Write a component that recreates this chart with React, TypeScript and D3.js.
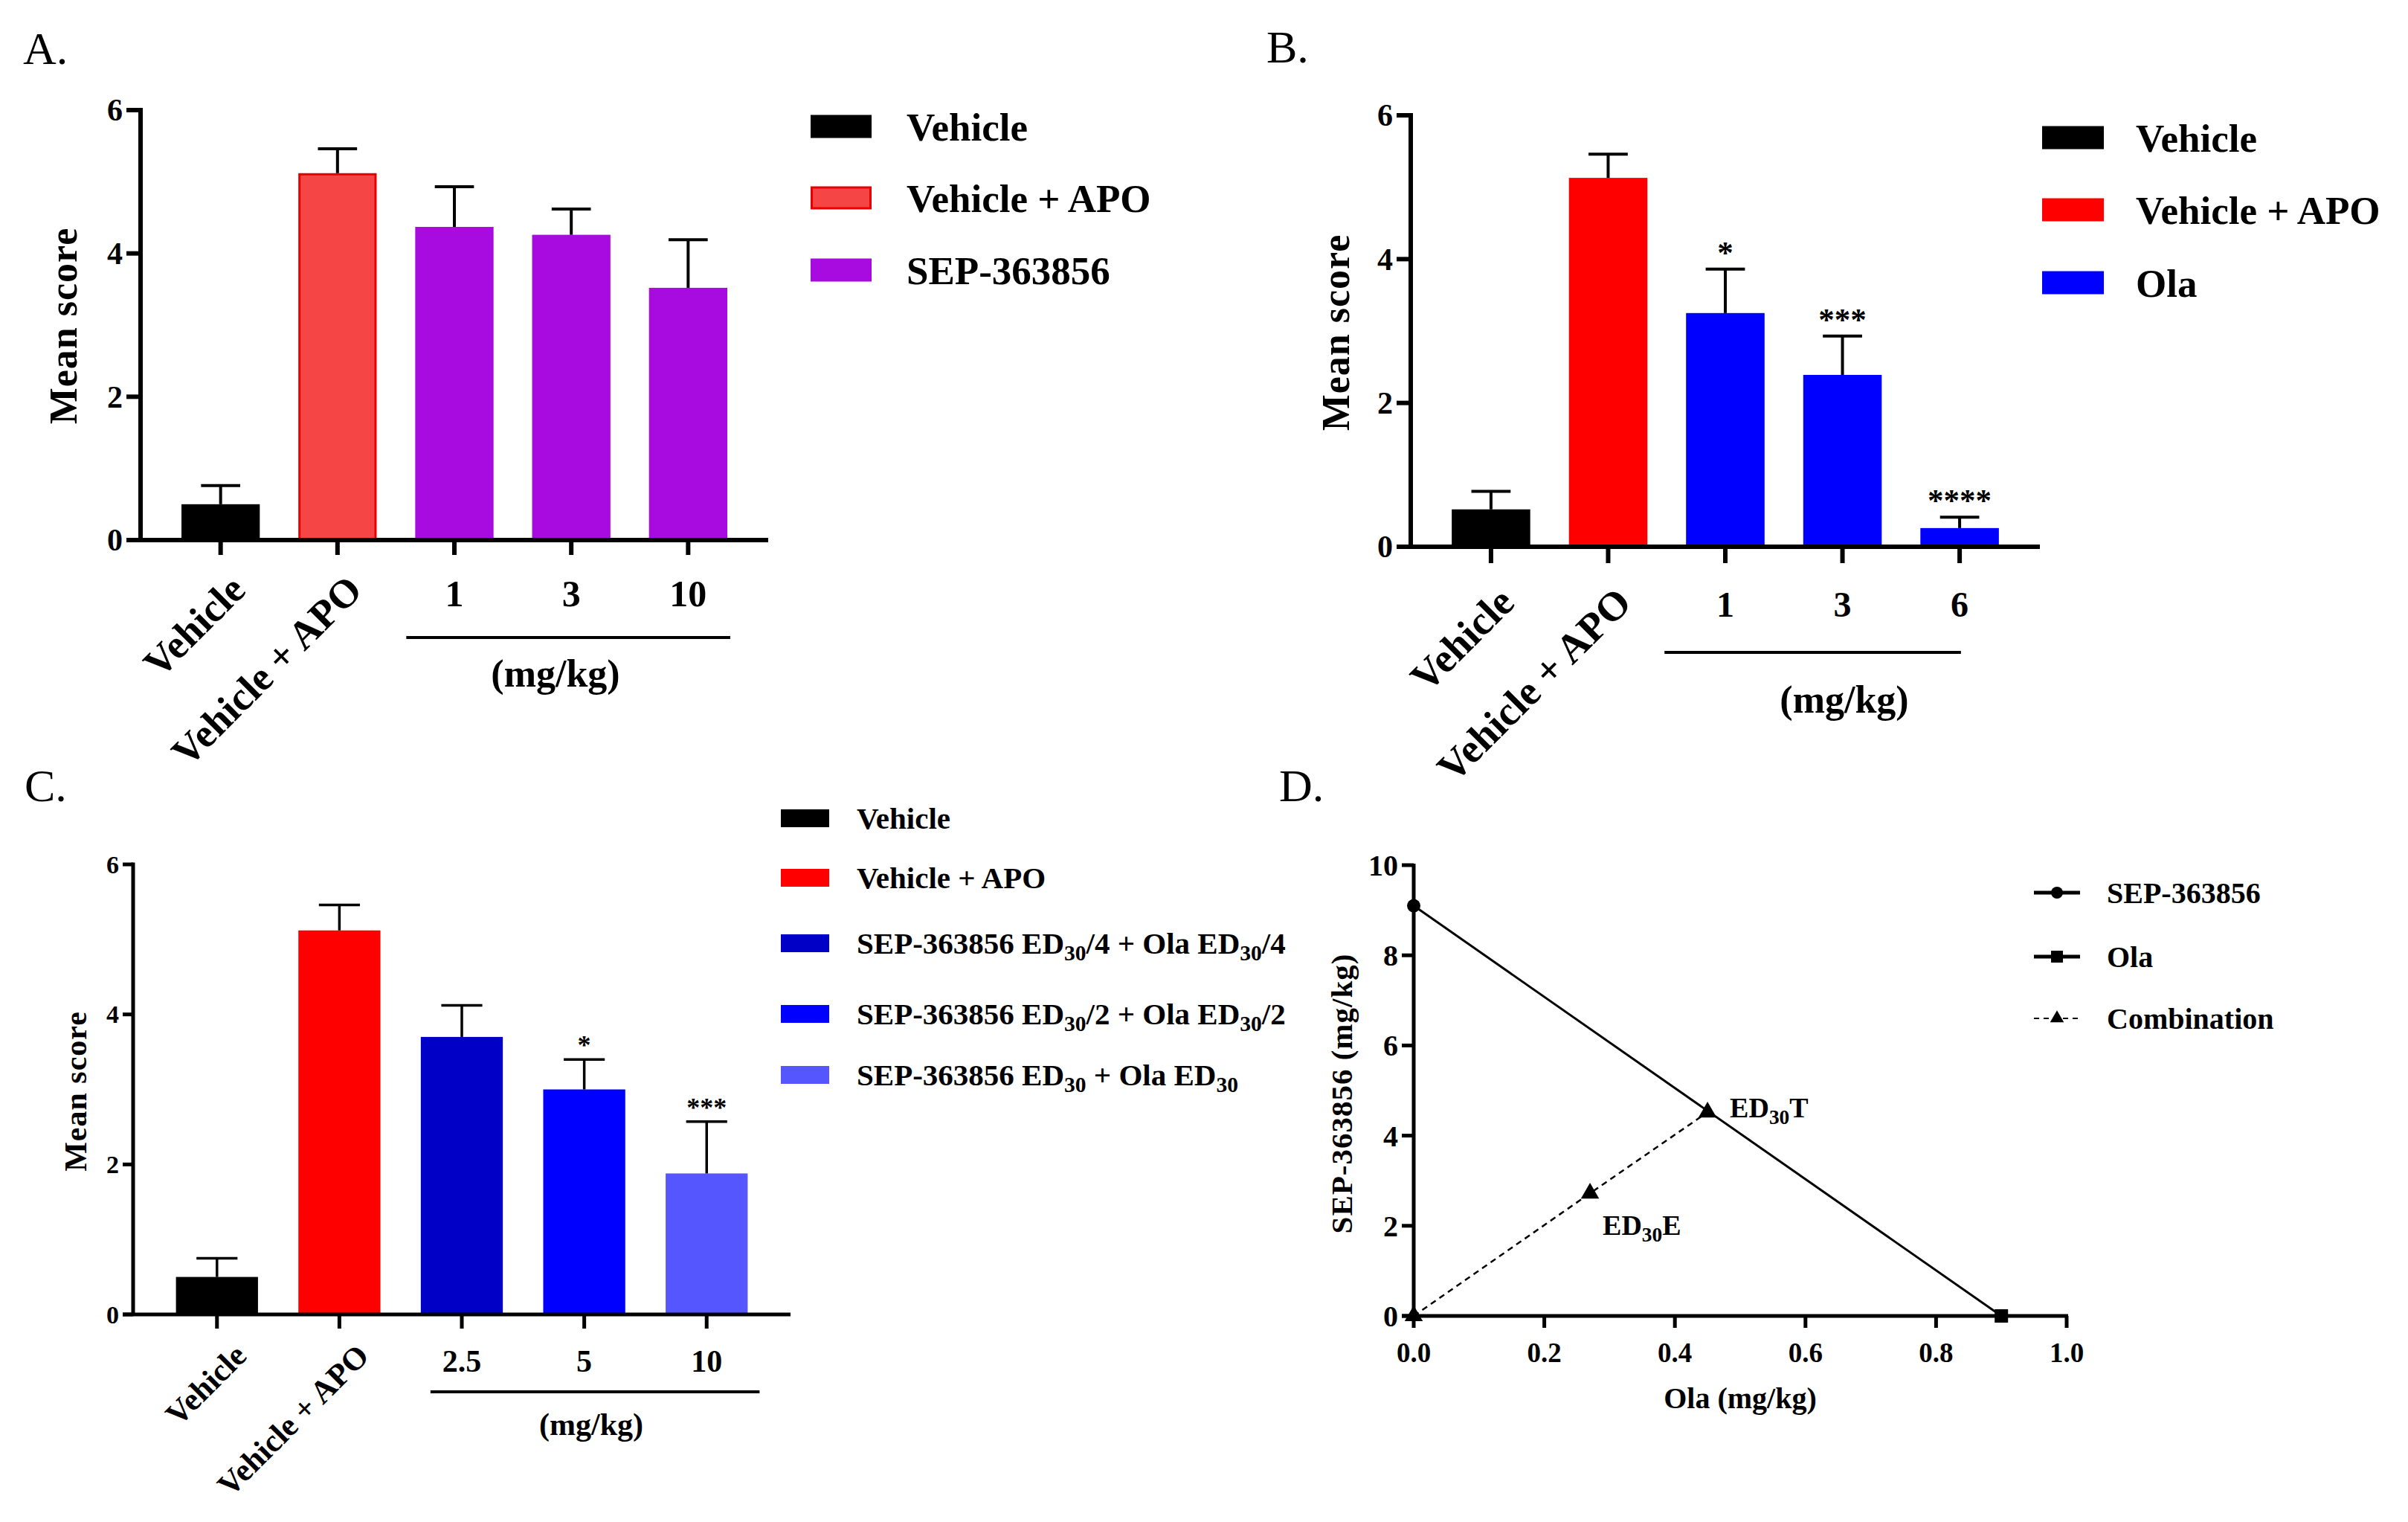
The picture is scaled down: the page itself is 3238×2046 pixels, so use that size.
import React from 'react';
import * as d3 from 'd3';

const FONT = '"Liberation Serif", "Times New Roman", Times, serif';

// ---------- Panel A data ----------
const catA = ['Vehicle', 'Vehicle + APO', '1', '3', '10'];
const meanA = [0.5, 5.12, 4.37, 4.26, 3.52];
const semA = [0.26, 0.34, 0.56, 0.36, 0.67];
const colorA = ['#000000', '#F54545', '#A70BE0', '#A70BE0', '#A70BE0'];
const strokeA = ['none', '#E40000', 'none', 'none', 'none'];
const starsA = ['', '', '', '', ''];
const legendA = ['Vehicle', 'Vehicle + APO', 'SEP-363856'];
const legendColorA = ['#000000', '#F54545', '#A70BE0'];
const legendStrokeA = ['none', '#E40000', 'none'];

// ---------- Panel B data ----------
const catB = ['Vehicle', 'Vehicle + APO', '1', '3', '6'];
const meanB = [0.52, 5.13, 3.25, 2.39, 0.26];
const semB = [0.25, 0.33, 0.61, 0.54, 0.15];
const colorB = ['#000000', '#FF0000', '#0000FF', '#0000FF', '#0000FF'];
const strokeB = ['none', 'none', 'none', 'none', 'none'];
const starsB = ['', '', '*', '***', '****'];
const legendB = ['Vehicle', 'Vehicle + APO', 'Ola'];
const legendColorB = ['#000000', '#FF0000', '#0000FF'];
const legendStrokeB = ['none', 'none', 'none'];

// ---------- Panel C data ----------
const catC = ['Vehicle', 'Vehicle + APO', '2.5', '5', '10'];
const meanC = [0.5, 5.12, 3.7, 3.0, 1.88];
const semC = [0.25, 0.34, 0.42, 0.4, 0.69];
const colorC = ['#000000', '#FF0000', '#0000C6', '#0000FF', '#5656FF'];
const strokeC = ['none', 'none', 'none', 'none', 'none'];
const starsC = ['', '', '', '*', '***'];
const legendC = [
  'Vehicle',
  'Vehicle + APO',
  'SEP-363856 ED_30/4 + Ola ED_30/4',
  'SEP-363856 ED_30/2 + Ola ED_30/2',
  'SEP-363856 ED_30 + Ola ED_30',
];
const legendColorC = ['#000000', '#FF0000', '#0000C6', '#0000FF', '#5656FF'];
const legendStrokeC = ['none', 'none', 'none', 'none', 'none'];

const yTicksBar = [0, 2, 4, 6];

// ---------- Panel D data ----------
const isoX = [0, 0.9];
const isoY = [9.1, 0];
const comboX = [0, 0.27, 0.45];
const comboY = [0, 2.72, 4.52];
const xTicksD = [0, 0.2, 0.4, 0.6, 0.8, 1.0];
const yTicksD = [0, 2, 4, 6, 8, 10];
const legendD = ['SEP-363856', 'Ola', 'Combination'];

function Rich({ text, sub }: { text: string; sub: number }) {
  const parts = text.split(/_(\d+)/);
  const out: any[] = [];
  let shifted = false;
  parts.forEach((p, i) => {
    if (i % 2 === 1) {
      out.push(
        <tspan key={i} dy={sub} fontSize="72%">
          {p}
        </tspan>
      );
      shifted = true;
    } else if (p.length) {
      out.push(
        <tspan key={i} dy={shifted ? -sub : 0}>
          {p}
        </tspan>
      );
      shifted = false;
    } else if (shifted) {
      shifted = false;
    }
  });
  return <>{out}</>;
}

function BarPanel(cfg: any) {
  const x = d3
    .scaleBand<string>()
    .domain(cfg.cats)
    .range([cfg.x0, cfg.x1])
    .paddingInner(0.33)
    .paddingOuter(0.35);
  const y = d3.scaleLinear().domain([0, 6]).range([cfg.yB, cfg.yT]);
  const bw = x.bandwidth();
  const cx = (c: string) => (x(c) as number) + bw / 2;
  const aw = cfg.axisW;
  return (
    <g fontFamily={FONT} fontWeight="bold">
      <text x={cfg.letter[0]} y={cfg.letter[1]} fontSize={62} fontWeight="normal">
        {cfg.letterText}
      </text>
      {/* bars */}
      {cfg.cats.map((c: string, i: number) => {
        const top = y(cfg.means[i]);
        const hasStroke = cfg.strokes[i] !== 'none';
        return (
          <rect
            key={'b' + i}
            x={(x(c) as number) + (hasStroke ? 1.5 : 0)}
            y={top + (hasStroke ? 1.5 : 0)}
            width={bw - (hasStroke ? 3 : 0)}
            height={cfg.yB - top - (hasStroke ? 1.5 : 0)}
            fill={cfg.colors[i]}
            stroke={hasStroke ? cfg.strokes[i] : 'none'}
            strokeWidth={3}
          />
        );
      })}
      {/* error bars */}
      {cfg.cats.map((c: string, i: number) => {
        const top = y(cfg.means[i]);
        const et = y(cfg.means[i] + cfg.sems[i]);
        const capW = bw * 0.5;
        return (
          <g key={'e' + i} stroke="#000" strokeWidth={cfg.errW}>
            <line x1={cx(c)} x2={cx(c)} y1={top} y2={et} />
            <line x1={cx(c) - capW / 2} x2={cx(c) + capW / 2} y1={et} y2={et} />
          </g>
        );
      })}
      {/* stars */}
      {cfg.cats.map((c: string, i: number) =>
        cfg.stars[i] ? (
          <text
            key={'s' + i}
            x={cx(c)}
            y={y(cfg.means[i] + cfg.sems[i]) - cfg.starGap}
            textAnchor="middle"
            fontSize={cfg.starSize}
            fontWeight="bold"
          >
            {cfg.stars[i]}
          </text>
        ) : null
      )}
      {/* axes */}
      <line x1={cfg.x0} x2={cfg.x0} y1={cfg.yT - aw / 2} y2={cfg.yB} stroke="#000" strokeWidth={aw} />
      <line x1={cfg.x0 - cfg.tickLen} x2={cfg.x1} y1={cfg.yB} y2={cfg.yB} stroke="#000" strokeWidth={aw} />
      {yTicksBar.map((t) => (
        <g key={'yt' + t}>
          <line x1={cfg.x0 - cfg.tickLen} x2={cfg.x0} y1={y(t)} y2={y(t)} stroke="#000" strokeWidth={aw} />
          <text
            x={cfg.x0 - cfg.tickLen - 5}
            y={y(t) + cfg.yTickSize * 0.34}
            textAnchor="end"
            fontSize={cfg.yTickSize}
          >
            {t}
          </text>
        </g>
      ))}
      {cfg.cats.map((c: string) => (
        <line
          key={'xt' + c}
          x1={cx(c)}
          x2={cx(c)}
          y1={cfg.yB}
          y2={cfg.yB + cfg.xTickLen}
          stroke="#000"
          strokeWidth={aw}
        />
      ))}
      {/* x labels */}
      {cfg.cats.map((c: string, i: number) =>
        i < 2 ? (
          <text
            key={'xl' + i}
            transform={`translate(${cx(c) + cfg.rotDx},${cfg.yB + cfg.rotDy}) rotate(-45)`}
            textAnchor="end"
            fontSize={cfg.rotSize}
          >
            {c}
          </text>
        ) : (
          <text key={'xl' + i} x={cx(c)} y={cfg.numY} textAnchor="middle" fontSize={cfg.numSize}>
            {c}
          </text>
        )
      )}
      <line
        x1={(x(cfg.cats[2]) as number) + cfg.lineDs}
        x2={(x(cfg.cats[4]) as number) + bw + cfg.lineDe}
        y1={cfg.lineY}
        y2={cfg.lineY}
        stroke="#000"
        strokeWidth={4}
      />
      <text x={cfg.mgX} y={cfg.mgY} textAnchor="middle" fontSize={cfg.mgSize}>
        (mg/kg)
      </text>
      {/* y label */}
      <text
        transform={`translate(${cfg.ylab[0]},${cfg.ylab[1]}) rotate(-90)`}
        textAnchor="middle"
        fontSize={cfg.ylabSize}
        letterSpacing={cfg.ylabSpacing}
      >
        Mean score
      </text>
      {/* legend */}
      {cfg.legend.map((l: string, i: number) => {
        const cy = cfg.legY[i];
        const hasStroke = cfg.legStroke[i] !== 'none';
        return (
          <g key={'lg' + i}>
            <rect
              x={cfg.legX + (hasStroke ? 1.5 : 0)}
              y={cy - cfg.legH / 2 + (hasStroke ? 1.5 : 0)}
              width={cfg.legW - (hasStroke ? 3 : 0)}
              height={cfg.legH - (hasStroke ? 3 : 0)}
              fill={cfg.legColors[i]}
              stroke={hasStroke ? cfg.legStroke[i] : 'none'}
              strokeWidth={3}
            />
            <text x={cfg.legTextX} y={cy + cfg.legSize * 0.35} fontSize={cfg.legSize}>
              <Rich text={l} sub={cfg.legSize * 0.22} />
            </text>
          </g>
        );
      })}
    </g>
  );
}

function PanelD() {
  const x = d3.scaleLinear().domain([0, 1]).range([1901, 2779]);
  const y = d3.scaleLinear().domain([0, 10]).range([1769, 1163]);
  const isoLine = d3
    .line<number>()
    .x((_, i) => x(isoX[i]))
    .y((d) => y(d))(isoY) as string;
  const comboLine = d3
    .line<number>()
    .x((_, i) => x(comboX[i]))
    .y((d) => y(d))(comboY) as string;
  const tri = d3.symbol(d3.symbolTriangle, 260)() as string;
  const triSmall = d3.symbol(d3.symbolTriangle, 150)() as string;
  const legY = [1200, 1286, 1369];
  const aw = 5;
  return (
    <g fontFamily={FONT} fontWeight="bold">
      <text x={1720} y={1077} fontSize={62} fontWeight="normal">
        D.
      </text>
      <path d={isoLine} fill="none" stroke="#000" strokeWidth={3} />
      <path d={comboLine} fill="none" stroke="#000" strokeWidth={2.5} strokeDasharray="8,6" />
      {/* axes */}
      <line x1={x(0)} x2={x(0)} y1={y(10) - 2} y2={y(0)} stroke="#000" strokeWidth={aw} />
      <line x1={x(0) - 16} x2={x(1) + 2} y1={y(0)} y2={y(0)} stroke="#000" strokeWidth={aw} />
      {yTicksD.map((t) => (
        <g key={'yd' + t}>
          <line x1={x(0) - 16} x2={x(0)} y1={y(t)} y2={y(t)} stroke="#000" strokeWidth={aw} />
          <text x={x(0) - 21} y={y(t) + 14} textAnchor="end" fontSize={40}>
            {t}
          </text>
        </g>
      ))}
      {xTicksD.map((t) => (
        <g key={'xd' + t}>
          <line x1={x(t)} x2={x(t)} y1={y(0)} y2={y(0) + 16} stroke="#000" strokeWidth={aw} />
          <text x={x(t)} y={1831} textAnchor="middle" fontSize={37}>
            {t.toFixed(1)}
          </text>
        </g>
      ))}
      {/* markers */}
      <circle cx={x(isoX[0])} cy={y(isoY[0])} r={9} fill="#000" />
      <rect x={x(isoX[1]) - 9} y={y(isoY[1]) - 9} width={18} height={18} fill="#000" />
      {comboX.map((v, i) => (
        <path key={'tr' + i} d={tri} transform={`translate(${x(v)},${y(comboY[i])})`} fill="#000" />
      ))}
      <text x={x(comboX[2]) + 30} y={y(comboY[2]) + 7} fontSize={38} fontWeight="bold">
        <Rich text="ED_30T" sub={9} />
      </text>
      <text x={x(comboX[1]) + 17} y={y(comboY[1]) + 56} fontSize={38} fontWeight="bold">
        <Rich text="ED_30E" sub={9} />
      </text>
      <text x={2340} y={1893} textAnchor="middle" fontSize={40}>
        Ola (mg/kg)
      </text>
      <text transform="translate(1818,1470) rotate(-90)" textAnchor="middle" fontSize={41} letterSpacing={1}>
        SEP-363856 (mg/kg)
      </text>
      {/* legend */}
      {legendD.map((l, i) => {
        const cy = legY[i];
        return (
          <g key={'ld' + i}>
            <line
              x1={2735}
              x2={2797}
              y1={cy}
              y2={cy}
              stroke="#000"
              strokeWidth={i === 2 ? 2 : 5}
              strokeDasharray={i === 2 ? '7,6' : undefined}
            />
            {i === 0 && <circle cx={2766} cy={cy} r={8} fill="#000" />}
            {i === 1 && <rect x={2758} y={cy - 8} width={16} height={16} fill="#000" />}
            {i === 2 && <path d={triSmall} transform={`translate(2766,${cy})`} fill="#000" />}
            <text x={2833} y={cy + 14} fontSize={40}>
              {l}
            </text>
          </g>
        );
      })}
    </g>
  );
}

const cfgA = {
  letterText: 'A.',
  letter: [31, 86],
  cats: catA,
  means: meanA,
  sems: semA,
  colors: colorA,
  strokes: strokeA,
  stars: starsA,
  x0: 189,
  x1: 1033,
  yT: 148,
  yB: 726,
  axisW: 6,
  errW: 4,
  tickLen: 19,
  xTickLen: 20,
  yTickSize: 42,
  starSize: 43,
  starGap: 8,
  rotDx: 36,
  rotDy: 70,
  rotSize: 54,
  numY: 815,
  numSize: 50,
  lineDs: -12,
  lineDe: 4,
  lineY: 857,
  mgX: 747,
  mgY: 923,
  mgSize: 52,
  ylab: [103, 438],
  ylabSize: 52,
  ylabSpacing: 1,
  legend: legendA,
  legColors: legendColorA,
  legStroke: legendStrokeA,
  legX: 1090,
  legW: 82,
  legH: 31,
  legY: [170, 266, 363],
  legTextX: 1219,
  legSize: 53,
};

const cfgB = {
  letterText: 'B.',
  letter: [1703, 84],
  cats: catB,
  means: meanB,
  sems: semB,
  colors: colorB,
  strokes: strokeB,
  stars: starsB,
  x0: 1897,
  x1: 2743,
  yT: 155,
  yB: 735,
  axisW: 6,
  errW: 4,
  tickLen: 19,
  xTickLen: 22,
  yTickSize: 42,
  starSize: 43,
  starGap: 8,
  rotDx: 34,
  rotDy: 78,
  rotSize: 55,
  numY: 829,
  numSize: 48,
  lineDs: -29,
  lineDe: -51,
  lineY: 877,
  mgX: 2480,
  mgY: 958,
  mgSize: 52,
  ylab: [1814, 447],
  ylabSize: 52,
  ylabSpacing: 1,
  legend: legendB,
  legColors: legendColorB,
  legStroke: legendStrokeB,
  legX: 2746,
  legW: 83,
  legH: 31,
  legY: [185, 282, 380],
  legTextX: 2872,
  legSize: 53,
};

const cfgC = {
  letterText: 'C.',
  letter: [33, 1077],
  cats: catC,
  means: meanC,
  sems: semC,
  colors: colorC,
  strokes: strokeC,
  stars: starsC,
  x0: 179,
  x1: 1063,
  yT: 1162,
  yB: 1767,
  axisW: 5,
  errW: 3.5,
  tickLen: 14,
  xTickLen: 19,
  yTickSize: 34,
  starSize: 36,
  starGap: 7,
  rotDx: 42,
  rotDy: 58,
  rotSize: 43,
  numY: 1844,
  numSize: 42,
  lineDs: 13,
  lineDe: 16,
  lineY: 1871,
  mgX: 795,
  mgY: 1929,
  mgSize: 42,
  ylab: [116, 1467],
  ylabSize: 42,
  ylabSpacing: 1,
  legend: legendC,
  legColors: legendColorC,
  legStroke: legendStrokeC,
  legX: 1050,
  legW: 65,
  legH: 24,
  legY: [1100, 1180, 1268, 1363, 1445],
  legTextX: 1152,
  legSize: 41,
};

export default function App() {
  return (
    <svg
      width={3238}
      height={2046}
      viewBox="0 0 3238 2046"
      style={{ position: 'absolute', left: 0, top: 0, background: '#fff' }}
    >
      <rect width={3238} height={2046} fill="#fff" />
      <BarPanel {...cfgA} />
      <BarPanel {...cfgB} />
      <BarPanel {...cfgC} />
      <PanelD />
    </svg>
  );
}
